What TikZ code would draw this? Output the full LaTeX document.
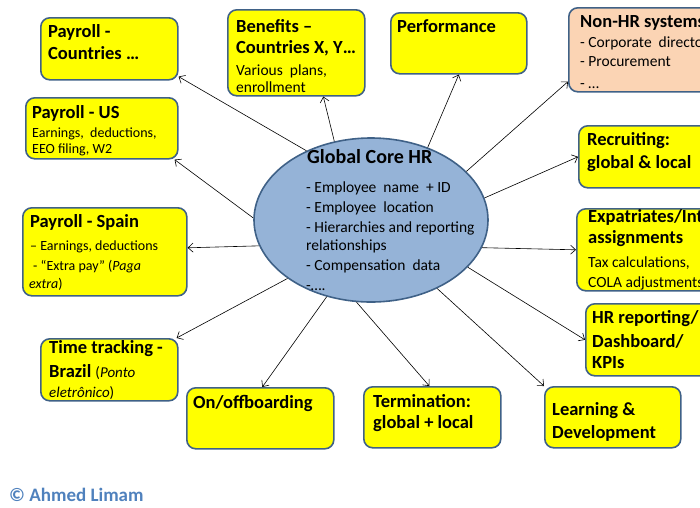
\documentclass[tikz,border=0pt]{standalone}
\usepackage{fontspec}
\setmainfont{Carlito}
\usetikzlibrary{arrows.meta,shapes.geometric}
\definecolor{yel}{HTML}{FFFF00}
\definecolor{bordc}{HTML}{3F6187}
\definecolor{ellfill}{HTML}{95B3D7}
\definecolor{peach}{HTML}{FBD4B4}
\definecolor{copyc}{HTML}{4F81BD}
\tikzset{
  box/.style={draw=bordc, line width=1.6pt, fill=yel, rounded corners=9pt, anchor=north west, inner sep=0pt},
  ttl/.style={anchor=base west, inner sep=0pt, font=\fontsize{18.5}{22}\selectfont\bfseries},
  bdy/.style={anchor=base west, inner sep=0pt, font=\fontsize{14}{17}\selectfont},
  bdyl/.style={anchor=base west, inner sep=0pt, font=\fontsize{15.5}{19}\selectfont},
  arr/.style={draw=black, line width=0.6pt, -{Straight Barb[length=5pt,width=9pt]}}
}
\begin{document}
\begin{tikzpicture}[x=1pt,y=-1pt]
\useasboundingbox (0,0) rectangle (700,507);
\clip (0,0) rectangle (700,507);
% boxes
\node[box, minimum width=137pt, minimum height=62pt] (pc) at (40,17) {};
\node[box, minimum width=152pt, minimum height=61pt] (pus) at (25,97) {};
\node[box, minimum width=137pt, minimum height=86pt] (ben) at (227,9) {};
\node[box, minimum width=136pt, minimum height=61pt] (perf) at (390,12) {};
\node[box, fill=peach, minimum width=200pt, minimum height=84pt] (nonhr) at (568,7) {};
\node[box, minimum width=200pt, minimum height=62pt] (rec) at (578,125) {};
\node[box, minimum width=200pt, minimum height=82pt] (exp) at (576,208) {};
\node[box, minimum width=200pt, minimum height=72pt] (hrr) at (585,303) {};
\node[box, minimum width=136pt, minimum height=61pt] (ld) at (544,386) {};
\node[box, minimum width=137pt, minimum height=61pt] (term) at (363,386) {};
\node[box, minimum width=147pt, minimum height=61pt] (onoff) at (186,387) {};
\node[box, minimum width=137pt, minimum height=62pt] (tt) at (40,338) {};
\node[box, minimum width=164pt, minimum height=88pt] (ps) at (22,207) {};
% core ellipse
\node[ellipse, draw=bordc, line width=1.6pt, fill=ellfill, minimum width=234pt, minimum height=164pt, inner sep=0pt] (core) at (371,220) {};
% texts
\node[ttl] (pc1) at (48,37) {Payroll -};
\node[ttl] (pc2) at (48,59) {Countries …};
\node[ttl] (pus1) at (32,118) {Payroll - US};
\node[bdy] (pus2) at (32,137) {Earnings,\ \ deductions,};
\node[bdy] (pus3) at (32,153) {EEO filing,\ W2};
\node[ttl] (ben1) at (236,32) {Benefits –};
\node[ttl] (ben2) at (236,53) {Countries X, Y…};
\node[bdyl] (ben3) at (236,75) {Various\ \ plans,};
\node[bdyl] (ben4) at (236,92) {enrollment};
\node[ttl] (perf1) at (397,32) {Performance};
\node[ttl] (non1) at (580,27) {Non-HR systems};
\node[bdyl] (non2) at (580,47) {-\ Corporate\ \ directory};
\node[bdyl] (non3) at (580,66) {-\ Procurement};
\node[bdyl] (non4) at (580,88) {-\ …};
\node[ttl] (rec1) at (587,145) {Recruiting:};
\node[ttl] (rec2) at (587,168) {global \& local};
\node[ttl] (exp1) at (588,222) {Expatriates/International};
\node[ttl] (exp2) at (588,243) {assignments};
\node[bdyl] (exp3) at (588,267) {Tax calculations,};
\node[bdyl] (exp4) at (588,287) {COLA adjustments};
\node[ttl] (hrr1) at (592,323) {HR reporting/};
\node[ttl] (hrr2) at (592,347) {Dashboard/};
\node[ttl] (hrr3) at (592,368) {KPIs};
\node[ttl] (ld1) at (552,415) {Learning \&};
\node[ttl] (ld2) at (552,438) {Development};
\node[ttl] (term1) at (373,407) {Termination:};
\node[ttl] (term2) at (373,428) {global + local};
\node[ttl] (on1) at (193,408) {On/offboarding};
\node[ttl] (tt1) at (49,353) {Time tracking -};
\node[ttl] (tt2) at (49,377) {Brazil \fontsize{15}{18}\selectfont\mdseries(\textit{Ponto}};
\node[bdyl, font=\fontsize{15}{18}\selectfont] (tt3) at (49,397) {\textit{eletrônico})};
\node[ttl] (ps1) at (30,227) {Payroll - Spain};
\node[bdy] (ps2) at (30,250) {–\ Earnings, deductions};
\node[bdy] (ps3) at (33,270) {-\ “Extra pay”\ (\textit{Paga}};
\node[bdy] (ps4) at (29,288) {\textit{extra})};
\node[anchor=base west, inner sep=0pt, font=\fontsize{20}{24}\selectfont\bfseries] (core1) at (307,163) {Global Core HR};
\node[bdyl] (core2) at (306,192) {-\ Employee\ \ name\ \ + ID};
\node[bdyl] (core3) at (306,212) {-\ Employee\ \ location};
\node[bdyl] (core4) at (306,232) {-\ Hierarchies and reporting};
\node[bdyl] (core5) at (306,250) {relationships};
\node[bdyl] (core6) at (306,270) {-\ Compensation\ \ data};
\node[bdyl] (core7) at (306,290) {-….};
\node[anchor=base west, inner sep=0pt, text=copyc, font=\fontsize{19}{23}\selectfont\bfseries] (copy) at (9,501) {© Ahmed Limam};
% arrows
\draw[arr] (core.133) -- ([yshift=4pt]pc.south east);
\draw[arr] (core.179) -- ([xshift=-4pt]pus.south east);
\draw[arr] (core.115) -- ([xshift=27pt]ben.south);
\draw[arr] (core.52) -- (perf.south);
\draw[arr] (core.27) -- ([yshift=11pt]nonhr.south west);
\draw[arr] (core.11) -- (rec.west);
\draw[arr] (core.346) -- (exp.west);
\draw[arr] (core.334) -- (hrr.west);
\draw[arr] (core.314) -- (ld.north west);
\draw[arr] (core.260) -- ([xshift=-3pt]term.north);
\draw[arr] (core.240) -- ([xshift=2pt]onoff.north);
\draw[arr] (core.215) -- ([xshift=-2pt]tt.north east);
\draw[arr] (core.193) -- ([yshift=4pt]ps.east);
\end{tikzpicture}
\end{document}
